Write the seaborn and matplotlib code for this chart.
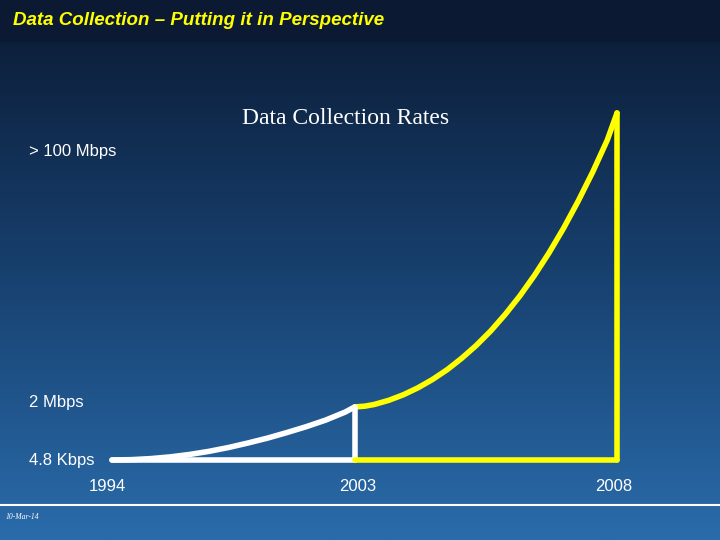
import matplotlib
matplotlib.use("Agg")
import matplotlib.pyplot as plt
import numpy as np
import pandas as pd
import seaborn as sns

# curve samples (x: horizontal position 0-104, y: relative rate height 0-100)
white_x = [0, 4, 8, 12, 16, 20, 24, 28, 32, 36, 40, 44, 48, 50]
white_y = [0, 0.1, 0.4, 0.9, 1.6, 2.5, 3.6, 4.9, 6.3, 7.9, 9.6, 11.5, 13.8, 15.3]
yellow_x = [50, 52, 54, 57, 60, 63, 66, 69, 72, 75, 78, 81, 84, 87, 90, 93, 96, 99, 102, 104]
yellow_y = [15.3, 15.5, 16.0, 17.2, 18.8, 20.8, 23.2, 26.0, 29.3, 33.0, 37.2, 42.0, 47.3, 53.2,
            59.7, 66.8, 74.6, 83.0, 92.2, 100]
year_pos = [0, 50, 104]
year_labels = ["1994", "2003", "2008"]
rate_labels = ["4.8 Kbps", "2 Mbps", "> 100 Mbps"]
rate_text_y = [0, 16.5, 89]

sns.set_theme(style="white")
plt.rcParams["font.family"] = ["Liberation Sans", "DejaVu Sans"]

fig = plt.figure(figsize=(7.2, 5.4), dpi=100)

# gradient background
bg = fig.add_axes([0, 0, 1, 1])
grad = np.linspace(0, 1, 256).reshape(-1, 1)
cmap = matplotlib.colors.LinearSegmentedColormap.from_list("bg", ["#0b1a33", "#17406e", "#2a6cab"])
bg.imshow(grad, aspect="auto", cmap=cmap, extent=[0, 1, 0, 1], origin="upper")
bg.set_axis_off()
bg.set_xlim(0, 1)
bg.set_ylim(0, 1)
bg.add_patch(plt.Rectangle((0, 0.925), 1, 0.075, color="#0b1a32", zorder=1))
bg.text(0.018, 0.962, "Data Collection \u2013 Putting it in Perspective", color="#ffff00",
        fontsize=13.5, fontweight="bold", style="italic", va="center", zorder=2)
bg.plot([0, 1], [0.064, 0.064], color="white", lw=1.5)
bg.text(0.008, 0.042, "10-Mar-14", color="white", fontsize=5.5, style="italic",
        family="Liberation Serif", va="center")

# chart area: x 112..617 px, y 460..113 px
ax = fig.add_axes([112 / 720, 1 - 460 / 540, (617 - 112) / 720, (460 - 113) / 540])
ax.set_facecolor("none")
ax.set_xlim(0, 104)
ax.set_ylim(0, 100)
ax.set_axis_off()

wdf = pd.DataFrame({"x": white_x, "y": white_y})
ydf = pd.DataFrame({"x": yellow_x, "y": yellow_y})
kw = dict(lw=4, solid_capstyle="round", solid_joinstyle="round", clip_on=False)
sns.lineplot(data=wdf, x="x", y="y", color="white", ax=ax, **kw)
sns.lineplot(data=ydf, x="x", y="y", color="#ffff00", ax=ax, **kw)
ax.plot([year_pos[0], year_pos[1]], [0, 0], color="white", **kw)
ax.plot([year_pos[1], year_pos[1]], [0, white_y[-1]], color="white", **kw)
ax.plot([year_pos[1], year_pos[2]], [0, 0], color="#ffff00", **kw)
ax.plot([year_pos[2], year_pos[2]], [0, 100], color="#ffff00", **kw)

for p, lab, dx in zip(year_pos, year_labels, [-1, 0.5, -0.6]):
    ax.text(p + dx, -7.5, lab, color="white", fontsize=12, ha="center", va="center")
for ty, lab in zip(rate_text_y, rate_labels):
    ax.text(-17, ty, lab, color="white", fontsize=12, ha="left", va="center")

fig.text(0.48, 0.78, "Data Collection Rates", color="white", fontsize=17,
         family="Liberation Serif", ha="center", va="center")

fig.savefig("out.png", dpi=100)
